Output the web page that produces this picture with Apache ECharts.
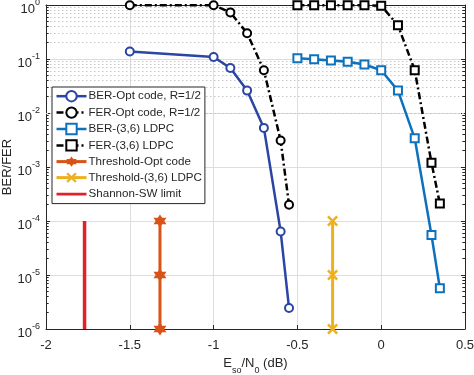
<!DOCTYPE html>
<html>
<head>
<meta charset="utf-8">
<script src="https://cdn.jsdelivr.net/npm/echarts@6/dist/echarts.min.js"></script>
<style>
  html, body { margin: 0; padding: 0; background: #fff; }
  #chart { width: 474px; height: 375px; }
</style>
</head>
<body>
<div id="chart"></div>
<script>
// x ticks
const xTicks = [-2, -1.5, -1, -0.5, 0, 0.5];

// opt code, R=1/2
const optSnr = [-1.5, -1, -0.9, -0.8, -0.7, -0.6, -0.55];
const berOpt = [0.138, 0.109, 0.068, 0.026, 0.0053, 6.4e-5, 2.45e-6];
const ferOpt = [0.99, 0.99, 0.73, 0.30, 0.062, 3.1e-3, 2.0e-4];

// (3,6) LDPC
const ldpcSnr = [-0.5, -0.4, -0.3, -0.2, -0.1, 0, 0.1, 0.2, 0.3, 0.35];
const berLdpc = [0.103, 0.099, 0.094, 0.089, 0.079, 0.062, 0.026, 3.4e-3, 5.5e-5, 5.7e-6];
const ferLdpc = [0.99, 0.99, 0.99, 0.99, 0.99, 0.97, 0.42, 0.062, 1.2e-3, 2.1e-4];

// thresholds / limit (vertical markers)
const thrOpt = -1.32;
const thrLdpc = -0.29;
const shannon = -1.77;
const thrY = [1e-4, 1e-5, 1e-6];

const names = [
  'BER-Opt code, R=1/2',
  'FER-Opt code, R=1/2',
  'BER-(3,6) LDPC',
  'FER-(3,6) LDPC',
  'Threshold-Opt code',
  'Threshold-(3,6) LDPC',
  'Shannon-SW limit'
];

const FONT = 'Liberation Sans';
const TXT = '#262626';
const dashDot = [7, 3, 2, 3];
const hexagram = 'path://M100 0 L128.9 50 L186.6 50 L157.7 100 L186.6 150 L128.9 150 L100 200 L71.1 150 L13.4 150 L42.3 100 L13.4 50 L71.1 50 Z';
const cross = 'path://M0 16 L16 0 L50 34 L84 0 L100 16 L66 50 L100 84 L84 100 L50 66 L16 100 L0 84 L34 50 Z';
const barIcon = 'path://M0 0 L0.01 0 L0.01 0.01 Z M0 5.2 L30 5.2 L30 7.8 L0 7.8 Z M0 12.99 L0.01 12.99 L0.01 13 Z';

// dotted minor grid lines and minor ticks of the log axis
const minorY = [];
for (let e = -6; e < 0; e++) {
  for (let k = 2; k <= 9; k++) minorY.push(k * Math.pow(10, e));
}
const tickLen = 0.016; // in x units (about 2.7px)
const minorTicks = [];
minorY.forEach((v) => {
  minorTicks.push([{ coord: [-2, v] }, { coord: [-2 + tickLen, v] }]);
  minorTicks.push([{ coord: [0.5 - tickLen, v] }, { coord: [0.5, v] }]);
});

const zip = (xs, ys) => xs.map((x, i) => [x, ys[i]]);
const vline = (x) => thrY.map((y) => [x, y]);

const supLabel = (v) => {
  const e = Math.round(Math.log10(v));
  return '{b|10}{s|' + e + '}';
};

const logAxis = (extra) => Object.assign({
  type: 'log',
  logBase: 10,
  min: 1e-6,
  max: 1,
  axisLine: { show: true, onZero: false, lineStyle: { color: TXT, width: 1 } },
  axisTick: { show: true, inside: true, length: 4, lineStyle: { color: TXT } }
}, extra);

const legendItems = [
  { name: names[0], lineStyle: { width: 2.5 } },
  { name: names[1], lineStyle: { width: 2.5, type: dashDot } },
  { name: names[2], lineStyle: { width: 2.5 } },
  { name: names[3], lineStyle: { width: 2.5, type: dashDot } },
  { name: names[4], lineStyle: { width: 3 } },
  { name: names[5], lineStyle: { width: 3 } },
  { name: names[6], icon: barIcon }
];

const chart = echarts.init(document.getElementById('chart'));
chart.setOption({
  animation: false,
  textStyle: { fontFamily: FONT },
  grid: { left: 46, right: 9, top: 5, bottom: 46, outerBoundsMode: 'none', containLabel: false },
  legend: {
    data: legendItems,
    z: 20,
    orient: 'vertical',
    left: 52,
    top: 87,
    itemWidth: 30,
    itemHeight: 13,
    itemGap: 4,
    padding: [3, 3, 3, 3],
    backgroundColor: '#fff',
    borderColor: '#262626',
    borderWidth: 1,
    borderRadius: 0,
    textStyle: { fontFamily: FONT, fontSize: 11.6, color: TXT, padding: [0, 0, 0, -3] }
  },
  xAxis: [
    {
      type: 'value',
      min: -2,
      max: 0.5,
      interval: 0.5,
      name: '{b|E}{s|so}{b|/N}{s|0}{b| (dB)}',
      nameLocation: 'middle',
      nameGap: 22,
      nameTextStyle: {
        color: TXT,
        rich: {
          b: { fontFamily: FONT, fontSize: 13, color: TXT, padding: [0, 0, 5, 0], verticalAlign: 'bottom' },
          s: { fontFamily: FONT, fontSize: 9, color: TXT, verticalAlign: 'bottom' }
        }
      },
      axisLine: { show: true, onZero: false, lineStyle: { color: TXT, width: 1 } },
      axisTick: { show: true, inside: true, length: 4, lineStyle: { color: TXT } },
      axisLabel: {
        color: TXT, fontSize: 13, margin: 10,
        formatter: (v) => (xTicks.indexOf(v) >= 0 ? String(v) : '')
      },
      splitLine: { show: true, lineStyle: { color: '#dedede', width: 1 } }
    },
    {
      type: 'value',
      position: 'top',
      min: -2,
      max: 0.5,
      interval: 0.5,
      axisLine: { show: true, onZero: false, lineStyle: { color: TXT, width: 1 } },
      axisTick: { show: true, inside: true, length: 4, lineStyle: { color: TXT } },
      axisLabel: { show: false },
      splitLine: { show: false }
    }
  ],
  yAxis: [
    logAxis({
      name: 'BER/FER',
      nameLocation: 'middle',
      nameGap: 32,
      nameMoveOverlap: false,
      nameTextStyle: { color: TXT, fontSize: 13, fontFamily: FONT },
      axisLabel: {
        color: TXT,
        margin: 6,
        formatter: supLabel,
        rich: {
          b: { fontFamily: FONT, fontSize: 13, color: TXT, padding: [8, 0, 0, 0], verticalAlign: 'bottom' },
          s: { fontFamily: FONT, fontSize: 9, color: TXT, padding: [0, 0, 8, 0], verticalAlign: 'bottom' }
        }
      },
      splitLine: { show: true, lineStyle: { color: '#dedede', width: 1 } }
    }),
    logAxis({
      position: 'right',
      axisLabel: { show: false },
      splitLine: { show: false }
    })
  ],
  series: [
    {
      name: 'grid-minor',
      type: 'line',
      data: [[-2, 1e-6]],
      symbol: 'none',
      silent: true,
      lineStyle: { width: 0 },
      z: 1,
      markLine: {
        z: 1,
        silent: true,
        symbol: ['none', 'none'],
        label: { show: false },
        lineStyle: { color: '#c8c8c8', type: [1.5, 2.5], width: 1 },
        data: minorY.map((v) => ({ yAxis: v }))
      }
    },
    {
      name: 'tick-minor',
      type: 'line',
      data: [[-2, 1e-6]],
      symbol: 'none',
      silent: true,
      lineStyle: { width: 0 },
      z: 3,
      markLine: {
        z: 3,
        silent: true,
        symbol: ['none', 'none'],
        label: { show: false },
        lineStyle: { color: TXT, type: 'solid', width: 1 },
        data: minorTicks
      }
    },
    {
      name: names[0],
      type: 'line',
      data: zip(optSnr, berOpt),
      color: '#2a45a3',
      lineStyle: { width: 2.5 },
      symbol: 'emptyCircle',
      symbolSize: 8,
      itemStyle: { borderWidth: 2 }
    },
    {
      name: names[1],
      type: 'line',
      data: zip(optSnr, ferOpt),
      color: '#000',
      lineStyle: { width: 2.5, type: dashDot },
      symbol: 'emptyCircle',
      symbolSize: 8,
      itemStyle: { borderWidth: 2 }
    },
    {
      name: names[2],
      type: 'line',
      data: zip(ldpcSnr, berLdpc),
      color: '#0d72be',
      lineStyle: { width: 2.5 },
      symbol: 'emptyRect',
      symbolSize: 8,
      itemStyle: { borderWidth: 2 }
    },
    {
      name: names[3],
      type: 'line',
      data: zip(ldpcSnr, ferLdpc),
      color: '#000',
      lineStyle: { width: 2.5, type: dashDot },
      symbol: 'emptyRect',
      symbolSize: 8,
      itemStyle: { borderWidth: 2 }
    },
    {
      name: names[4],
      type: 'line',
      data: vline(thrOpt),
      color: '#d95319',
      lineStyle: { width: 3 },
      symbol: hexagram,
      symbolSize: 13
    },
    {
      name: names[5],
      type: 'line',
      data: vline(thrLdpc),
      color: '#edb120',
      lineStyle: { width: 3 },
      symbol: cross,
      symbolSize: 11
    },
    {
      name: names[6],
      type: 'line',
      data: vline(shannon),
      color: '#e3202a',
      lineStyle: { width: 3.5 },
      symbol: 'none'
    }
  ]
});
</script>
</body>
</html>
